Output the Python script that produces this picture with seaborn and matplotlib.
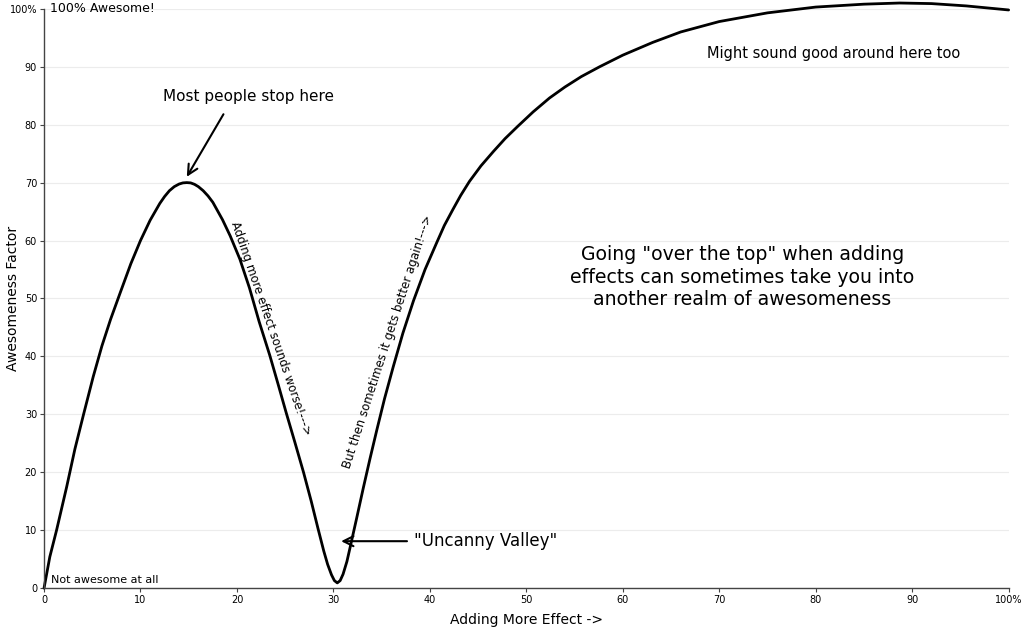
import matplotlib
matplotlib.use("Agg")
import matplotlib.pyplot as plt
import pandas as pd
import seaborn as sns

# values
effect = [0, 0.6, 1.3, 2.35, 3.2, 4.1, 5.1, 6.0, 6.9, 7.9, 9.0, 10.0, 11.0,
          12.0, 12.5, 13.0, 13.5, 14.0, 14.4, 14.8, 15.2, 15.6, 16.0, 16.5,
          17.0, 17.5, 18.5, 19.3, 20.3, 21.3, 22.3, 23.4, 24.3, 25.1, 26.0,
          26.9, 27.7, 28.4, 29.0, 29.4, 29.8, 30.1, 30.4, 30.7, 31.0, 31.4,
          31.7, 32.4, 33.1, 33.8, 34.5, 35.3, 36.2, 37.2, 38.3, 39.5, 40.7,
          41.5, 42.4, 43.2, 44.1, 45.3, 46.6, 47.8, 49.1, 50.7, 52.4, 54.0,
          55.7, 57.6, 60.0, 63.1, 66.0, 70.0, 75.0, 80.0, 85.0, 88.7, 92.0,
          95.6, 100.0]
awesome = [0, 5.4, 10, 17.5, 24, 30, 36.5, 41.8, 46.4, 51, 56, 60, 63.5,
           66.4, 67.6, 68.6, 69.3, 69.75, 69.95, 70, 69.95, 69.7, 69.3, 68.6,
           67.7, 66.6, 63.6, 60.8, 56.8, 51.8, 46, 40.2, 35, 30.3, 25.2,
           20, 15, 10.3, 6.4, 4.1, 2.3, 1.3, 0.9, 1.3, 2.4, 4.6,
           6.8, 12, 17.3, 22.4, 27.3, 32.7, 38.2, 44, 49.6, 55, 59.6,
           62.6, 65.4, 67.8, 70.2, 72.9, 75.4, 77.6, 79.7, 82.2, 84.6, 86.5,
           88.3, 90, 92, 94.2, 96, 97.8, 99.3, 100.3, 100.8, 101, 100.9,
           100.5, 99.8]

xticks = [0, 10, 20, 30, 40, 50, 60, 70, 80, 90, 100]
xtick_labels = ["0", "10", "20", "30", "40", "50", "60", "70", "80", "90", "100%"]
yticks = [0, 10, 20, 30, 40, 50, 60, 70, 80, 90, 100]
ytick_labels = ["0", "10", "20", "30", "40", "50", "60", "70", "80", "90", "100%"]

df = pd.DataFrame({"effect": effect, "awesome": awesome})

sns.set_theme(style="white")
plt.rcParams["font.family"] = ["DejaVu Sans"]
plt.rcParams["text.color"] = "black"
plt.rcParams["axes.labelcolor"] = "black"
plt.rcParams["xtick.color"] = "black"
plt.rcParams["ytick.color"] = "black"

fig = plt.figure(figsize=(10.24, 6.29), dpi=100)
ax = fig.add_axes([0.043, 0.065, 0.942, 0.921])

sns.lineplot(data=df, x="effect", y="awesome", ax=ax, color="black",
             linewidth=2, sort=False, clip_on=False)
ax.lines[0].set_solid_joinstyle("round")
ax.lines[0].set_solid_capstyle("round")

ax.set_xlim(0, 100)
ax.set_ylim(0, 100)
ax.set_xticks(xticks)
ax.set_xticklabels(xtick_labels)
ax.set_yticks(yticks)
ax.set_yticklabels(ytick_labels)
ax.tick_params(axis="both", labelsize=7, length=3, width=0.8,
               color="#444444", pad=2, direction="out",
               bottom=True, left=True)
ax.yaxis.grid(True, color="#ececec", linewidth=0.8)
ax.set_axisbelow(True)
for side in ["top", "right"]:
    ax.spines[side].set_visible(False)
for side in ["left", "bottom"]:
    ax.spines[side].set_color("#444444")
    ax.spines[side].set_linewidth(1)

ax.set_xlabel("Adding More Effect ->", fontsize=10, labelpad=6)
ax.set_ylabel("Awesomeness Factor", fontsize=10)
ax.yaxis.set_label_coords(-0.025, 0.5)

ax.text(0.6, 100, "100% Awesome!", fontsize=9, va="center", ha="left")
ax.text(0.7, 0.6, "Not awesome at all", fontsize=8, va="bottom", ha="left")

arrow = dict(arrowstyle="->,head_length=0.6,head_width=0.3", color="black",
             lw=1.5, shrinkA=0, shrinkB=0)
ax.text(21.2, 84.8, "Most people stop here", fontsize=11,
        ha="center", va="center")
ax.annotate("", xy=(14.8, 71), xytext=(18.6, 81.8), arrowprops=arrow)
ax.annotate('"Uncanny Valley"', xy=(30.8, 8.1), xytext=(38.4, 8.1),
            fontsize=12, ha="left", va="center",
            arrowprops=dict(arrow, shrinkA=3))
ax.text(68.7, 92.2, "Might sound good around here too", fontsize=10.5,
        ha="left", va="center")
ax.text(72.4, 53.7,
        'Going "over the top" when adding\neffects can sometimes take you into\nanother realm of awesomeness',
        fontsize=13.6, ha="center", va="center", linespacing=1.25)

ax.text(23.5, 44.9, "Adding more effect sounds worse!--->", fontsize=8.5,
        rotation=-71, rotation_mode="anchor", ha="center", va="center")
ax.text(35.6, 42.5, "But then sometimes it gets better again!--->", fontsize=8.5,
        rotation=72, rotation_mode="anchor", ha="center", va="center")

fig.savefig("out.png", dpi=100)
